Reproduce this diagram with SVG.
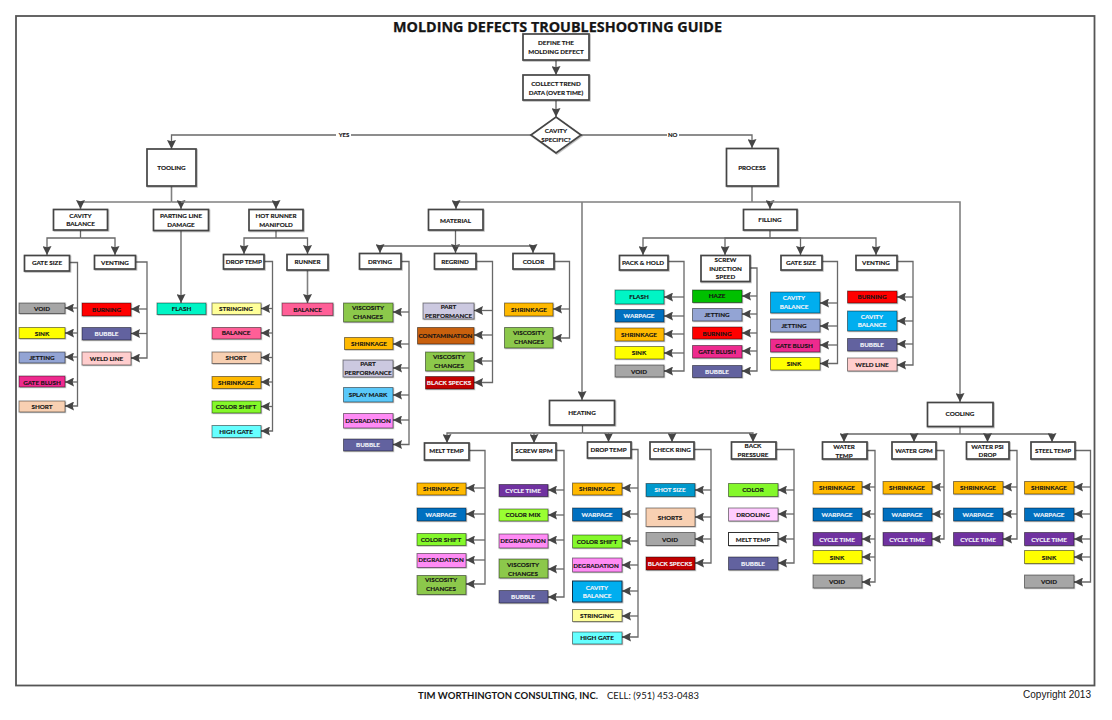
<svg xmlns="http://www.w3.org/2000/svg" width="1112" height="720" viewBox="0 0 1112 720">
<style>
text{font-family:Lato,"Liberation Sans",sans-serif;font-weight:700;font-size:6.3px;text-anchor:middle;fill:#151515;stroke:#151515;stroke-width:.14}
.w text,text.w{fill:#f2f4fa;stroke:#f2f4fa}
.n rect,.n polygon{fill:#fff;stroke:#454545;stroke-width:1.7;filter:url(#s)}
.c rect{stroke:#000;stroke-opacity:.45;stroke-width:1;filter:url(#s)}
#connectors path{fill:none;stroke:#686868;stroke-width:1.3}
#connectors path.a{marker-end:url(#ah)}
#connectors path.t{stroke:#808080;stroke-width:1.6}
.void rect{fill:#a6a6a6}.sink rect{fill:#ff0}.jet rect{fill:#93a4d4}.blush rect{fill:#ee2b8e}.short rect{fill:#f8d0b2}
.burn rect{fill:#f00}.bub rect{fill:#62629f}.weld rect{fill:#ffcdcd}.flash rect{fill:#00f5c5}.str rect{fill:#ffff99}
.bal rect{fill:#ff5f97}.shr rect{fill:#ffb900}.cs rect{fill:#84f82a}.hg rect{fill:#66ffff}.vis rect{fill:#8cc84b}
.pp rect{fill:#ccc9e0}.spl rect{fill:#5ac8fa}.deg rect{fill:#ff8bf5}.con rect{fill:#c8600a}.bs rect{fill:#c00000}
.haze rect{fill:#00c000}.war rect{fill:#0070c0}.cav rect{fill:#00aeef}.cyc rect{fill:#7030a0}.mix rect{fill:#99ff33}
.shot rect{fill:#0099cc}.dro rect{fill:#ffccff}.mt rect{fill:#fff;stroke:#333;stroke-opacity:1}
</style>
<defs>
<filter id="s" x="-10%" y="-10%" width="125%" height="130%"><feDropShadow dx="0.8" dy="0.8" stdDeviation="0.6" flood-color="#000" flood-opacity="0.3"/></filter>
<marker id="ah" viewBox="0 0 8 8" refX="8" refY="4" markerWidth="9" markerHeight="9" markerUnits="userSpaceOnUse" orient="auto"><path d="M0,0L8,4L0,8L1.2,4z" fill="#454545"/></marker>
</defs>
<rect id="frame" x="16" y="16" width="1078.5" height="669.5" fill="none" stroke="#555" stroke-width="1.8"/>
<text x="557.5" y="32" style="font-family:'Open Sans',sans-serif;font-size:14px;stroke-width:.25" textLength="329" lengthAdjust="spacingAndGlyphs">MOLDING DEFECTS TROUBLESHOOTING GUIDE</text>
<text x="508" y="698.5" style="font-size:10px;stroke:none" textLength="180" lengthAdjust="spacingAndGlyphs">TIM WORTHINGTON CONSULTING, INC.</text>
<text x="653" y="698.5" style="font-size:10px;font-weight:400;stroke:none" textLength="92" lengthAdjust="spacingAndGlyphs">CELL: (951) 453-0483</text>
<text x="1057" y="697.7" style="font-family:'Liberation Sans',sans-serif;font-size:10px;font-weight:400;stroke:none" textLength="68" lengthAdjust="spacingAndGlyphs">Copyright 2013</text>

<g id="connectors">
<path class="t a" d="M556,60V75"/><path class="t a" d="M556,100V117"/>
<path class="a" d="M531,135H171.5V149"/><path class="a" d="M581,135H752V148"/>
<!-- tooling -->
<path class="t" d="M171.5,186V202"/><path class="t a" d="M171.5,202H80.5V209"/><path class="t a" d="M171.5,202H181V209"/><path class="t a" d="M181,202H276V209"/>
<path d="M80.5,230V238"/><path class="a" d="M80.5,238H47V255"/><path class="a" d="M80.5,238H115V255"/>
<path class="a" d="M70,262.5H77.5V406H65"/><path class="a" d="M77.5,308H65"/><path class="a" d="M77.5,333H65"/><path class="a" d="M77.5,357H65"/><path class="a" d="M77.5,382H65"/>
<path class="a" d="M136,262H147V358H131"/><path class="a" d="M147,309H131"/><path class="a" d="M147,333.5H131"/>
<path class="t a" d="M181,231V303"/>
<path d="M276,231V238"/><path class="a" d="M276,238H244V254"/><path class="a" d="M276,238H307.5V254"/>
<path class="a" d="M264,261.5H272.5V431H261"/><path class="a" d="M272.5,308.5H261"/><path class="a" d="M272.5,333H261"/><path class="a" d="M272.5,357.5H261"/><path class="a" d="M272.5,382H261"/><path class="a" d="M272.5,406.5H261"/>
<path class="t a" d="M307.5,270V303"/>
<!-- process -->
<path class="t" d="M752,186V202"/><path class="t a" d="M582,202H456V209"/><path class="t a" d="M582,202V400"/><path class="t a" d="M582,202H770V209"/><path class="t a" d="M770,202H960V402"/>
<!-- material -->
<path d="M455.5,230V246"/><path class="a" d="M455.5,246H380V253"/><path class="a" d="M455.5,246V253"/><path class="a" d="M455.5,246H533V253"/>
<path class="a" d="M401,261.5H409V444.5H393"/><path class="a" d="M409,312H393"/><path class="a" d="M409,344H393"/><path class="a" d="M409,368H393"/><path class="a" d="M409,395H393"/><path class="a" d="M409,420H393"/>
<path class="a" d="M476,261.5H492.5V382.5H474"/><path class="a" d="M492.5,310.5H474"/><path class="a" d="M492.5,335H474"/><path class="a" d="M492.5,361H474"/>
<path class="a" d="M554,261.5H569.5V338H553"/><path class="a" d="M569.5,309H553"/>
<!-- filling -->
<path d="M770,230V238"/><path class="a" d="M770,238H643V255"/><path class="a" d="M770,238H725V255"/><path class="a" d="M770,238H800.5V255"/><path class="a" d="M770,238H876V255"/>
<path class="a" d="M668,261.5H684V371H664"/><path class="a" d="M684,297H664"/><path class="a" d="M684,316H664"/><path class="a" d="M684,334H664"/><path class="a" d="M684,353H664"/>
<path class="a" d="M750,268H757V371H742"/><path class="a" d="M757,296H742"/><path class="a" d="M757,314H742"/><path class="a" d="M757,333H742"/><path class="a" d="M757,351H742"/>
<path class="a" d="M822,261.5H837.5V363.5H820"/><path class="a" d="M837.5,303H820"/><path class="a" d="M837.5,326H820"/><path class="a" d="M837.5,345H820"/>
<path class="a" d="M897,261.5H913V365H897"/><path class="a" d="M913,297H897"/><path class="a" d="M913,321H897"/><path class="a" d="M913,344H897"/>
<!-- heating -->
<path d="M582.5,425V433"/><path class="a" d="M582.5,433H447V443"/><path class="a" d="M534,433V443"/><path class="a" d="M608.5,433V442"/><path class="a" d="M582.5,433H753V442"/><path class="a" d="M672,433V442"/>
<path class="a" d="M469,450.5H485V584H466"/><path class="a" d="M485,488H466"/><path class="a" d="M485,514H466"/><path class="a" d="M485,540H466"/><path class="a" d="M485,560H466"/>
<path class="a" d="M556,450.5H564V597H548"/><path class="a" d="M564,490H548"/><path class="a" d="M564,515H548"/><path class="a" d="M564,540H548"/><path class="a" d="M564,569H548"/>
<path class="a" d="M631,449.5H638V637H622"/><path class="a" d="M638,488H622"/><path class="a" d="M638,514H622"/><path class="a" d="M638,541H622"/><path class="a" d="M638,565H622"/><path class="a" d="M638,591H622"/><path class="a" d="M638,616H622"/>
<path class="a" d="M694,449.5H711V563H695"/><path class="a" d="M711,490H695"/><path class="a" d="M711,517H695"/><path class="a" d="M711,539H695"/>
<path class="a" d="M776,449.5H794V563H778"/><path class="a" d="M794,490H778"/><path class="a" d="M794,514H778"/><path class="a" d="M794,539H778"/>
<!-- cooling -->
<path d="M960,427V434"/><path class="a" d="M960,434H844V442"/><path class="a" d="M914,434V442"/><path class="a" d="M960,434H1052V442"/><path class="a" d="M987.5,434V442"/>
<path class="a" d="M867,450.5H875V582H862"/><path class="a" d="M875,487H862"/><path class="a" d="M875,514H862"/><path class="a" d="M875,539H862"/><path class="a" d="M875,557H862"/>
<path class="a" d="M936,450.5H944V539H932"/><path class="a" d="M944,487H932"/><path class="a" d="M944,514H932"/>
<path class="a" d="M1009,450.5H1017V539H1003"/><path class="a" d="M1017,487H1003"/><path class="a" d="M1017,514H1003"/>
<path class="a" d="M1075,450.5H1090.5V582H1074"/><path class="a" d="M1090.5,487H1074"/><path class="a" d="M1090.5,514H1074"/><path class="a" d="M1090.5,539H1074"/><path class="a" d="M1090.5,557H1074"/>
</g>

<g id="define" class="n"><rect x="523" y="34" width="66" height="26"/><text x="556" y="44.8">DEFINE THE</text><text x="556" y="53.8">MOLDING DEFECT</text></g>
<g id="collect" class="n"><rect x="523" y="75" width="66" height="25"/><text x="556" y="85.5">COLLECT TREND</text><text x="556" y="94.5">DATA (OVER TIME)</text></g>
<g id="cavity-specific" class="n"><polygon points="531,135 556,117 581,135 556,153"/><text x="556" y="132.8">CAVITY</text><text x="556" y="141.8">SPECIFIC?</text></g>
<g id="yes"><rect x="336" y="131" width="15" height="8" fill="#fff"/><text x="344" y="137.3" style="font-size:6px">YES</text></g>
<g id="no"><rect x="667" y="131" width="12" height="8" fill="#fff"/><text x="672.7" y="137.3" style="font-size:6px">NO</text></g>

<g id="tooling" class="n"><rect x="147" y="149" width="49" height="37"/><text x="171.5" y="169.5">TOOLING</text></g>
<g id="cavity-balance" class="n"><rect x="53.5" y="209.5" width="54" height="20.5"/><text x="80.5" y="218">CAVITY</text><text x="80.5" y="226">BALANCE</text></g>
<g id="parting" class="n"><rect x="153.5" y="209.5" width="55" height="21"/><text x="181" y="218">PARTING LINE</text><text x="181" y="227">DAMAGE</text></g>
<g id="hot-runner" class="n"><rect x="249" y="209.5" width="54" height="21"/><text x="276" y="218">HOT RUNNER</text><text x="276" y="227">MANIFOLD</text></g>
<g id="t-gate" class="n"><rect x="24.5" y="255.5" width="45" height="15.5"/><text x="47" y="265">GATE SIZE</text></g>
<g id="t-vent" class="n"><rect x="94.5" y="255.5" width="41" height="13.5"/><text x="115" y="264.5">VENTING</text></g>
<g id="t-drop" class="n"><rect x="223.5" y="254.5" width="40.5" height="14.5"/><text x="243.8" y="264">DROP TEMP</text></g>
<g id="t-runner" class="n"><rect x="287" y="254.5" width="41" height="15.5"/><text x="307.5" y="264">RUNNER</text></g>

<g id="a1" class="c void"><rect x="19" y="303" width="46" height="10.5"/><text x="42" y="310.5">VOID</text></g>
<g id="a2" class="c sink"><rect x="19" y="327.5" width="46" height="11"/><text x="42" y="335.5">SINK</text></g>
<g id="a3" class="c jet"><rect x="19" y="352" width="46" height="11"/><text x="42" y="360">JETTING</text></g>
<g id="a4" class="c blush"><rect x="19" y="376" width="46" height="11"/><text x="42" y="384.5">GATE BLUSH</text></g>
<g id="a5" class="c short"><rect x="19" y="401" width="46" height="11"/><text x="42" y="409">SHORT</text></g>
<g id="b1" class="c burn"><rect x="82" y="303" width="49" height="13"/><text x="106.5" y="311.5">BURNING</text></g>
<g id="b2" class="c bub w"><rect x="82" y="327.5" width="49" height="12.5"/><text x="106.5" y="336">BUBBLE</text></g>
<g id="b3" class="c weld"><rect x="82" y="352" width="49" height="13"/><text x="106.5" y="360.5">WELD LINE</text></g>
<g id="c1" class="c flash"><rect x="157" y="303" width="49" height="11.5"/><text x="181.5" y="310.5">FLASH</text></g>
<g id="d1" class="c str"><rect x="212" y="303" width="49" height="11.5"/><text x="236" y="310.5">STRINGING</text></g>
<g id="d2" class="c bal"><rect x="212" y="327.5" width="49" height="11.5"/><text x="236" y="335">BALANCE</text></g>
<g id="d3" class="c short"><rect x="212" y="352" width="49" height="11.5"/><text x="236" y="360">SHORT</text></g>
<g id="d4" class="c shr"><rect x="212" y="376.5" width="49" height="12"/><text x="236" y="384.5">SHRINKAGE</text></g>
<g id="d5" class="c cs"><rect x="212" y="401" width="49" height="12"/><text x="236" y="409">COLOR SHIFT</text></g>
<g id="d6" class="c hg"><rect x="212" y="425.5" width="49" height="12"/><text x="236" y="433.5">HIGH GATE</text></g>
<g id="e1" class="c bal"><rect x="282" y="303" width="51" height="12.5"/><text x="307.5" y="311.5">BALANCE</text></g>

<g id="process" class="n"><rect x="726.5" y="148.5" width="51.5" height="37.5"/><text x="752" y="169.5">PROCESS</text></g>
<g id="material" class="n"><rect x="428.5" y="209.5" width="54.5" height="20.5"/><text x="455.5" y="222.5">MATERIAL</text></g>
<g id="filling" class="n"><rect x="743.5" y="209.5" width="53.5" height="20.5"/><text x="770" y="221.5">FILLING</text></g>
<g id="drying" class="n"><rect x="359.5" y="253.5" width="41.5" height="15.5"/><text x="380" y="263.5">DRYING</text></g>
<g id="regrind" class="n"><rect x="434.5" y="253.5" width="41.5" height="15.5"/><text x="455" y="263.5">REGRIND</text></g>
<g id="color" class="n"><rect x="513" y="253.5" width="41" height="15.5"/><text x="533.5" y="263.5">COLOR</text></g>

<g id="f1" class="c vis"><rect x="343.5" y="303" width="49.5" height="19"/><text x="368" y="309.5">VISCOSITY</text><text x="368" y="318.5">CHANGES</text></g>
<g id="f2" class="c shr"><rect x="344.5" y="337.5" width="48.5" height="12"/><text x="369" y="345.5">SHRINKAGE</text></g>
<g id="f3" class="c pp"><rect x="343" y="360" width="50" height="17"/><text x="368" y="365.5">PART</text><text x="368" y="374.5">PERFORMANCE</text></g>
<g id="f4" class="c spl"><rect x="343.5" y="387.5" width="49.5" height="14.5"/><text x="368" y="397">SPLAY MARK</text></g>
<g id="f5" class="c deg"><rect x="343.5" y="413.5" width="49.5" height="14.5"/><text x="368" y="422.5">DEGRADATION</text></g>
<g id="f6" class="c bub w"><rect x="343.5" y="439" width="49.5" height="12"/><text x="368" y="446.5">BUBBLE</text></g>
<g id="g1" class="c pp"><rect x="423" y="303" width="51" height="16"/><text x="448.5" y="308.5">PART</text><text x="448.5" y="317.5">PERFORMANCE</text></g>
<g id="g2" class="c con"><rect x="417.5" y="327.5" width="56.5" height="16.5"/><text x="445.5" y="338">CONTAMINATION</text></g>
<g id="g3" class="c vis"><rect x="425.5" y="352" width="48.5" height="19"/><text x="449" y="358.5">VISCOSITY</text><text x="449" y="367.5">CHANGES</text></g>
<g id="g4" class="c bs w"><rect x="425.5" y="376.5" width="48.5" height="12.5"/><text x="449" y="385">BLACK SPECKS</text></g>
<g id="h1" class="c shr"><rect x="504.5" y="303" width="48.5" height="13"/><text x="529" y="311.5">SHRINKAGE</text></g>
<g id="h2" class="c vis"><rect x="504.5" y="327.5" width="48.5" height="20.5"/><text x="529" y="334.5">VISCOSITY</text><text x="529" y="343.5">CHANGES</text></g>

<g id="pack" class="n"><rect x="619.5" y="255.5" width="48.5" height="14.5"/><text x="643" y="264.5">PACK &amp; HOLD</text></g>
<g id="screw" class="n"><rect x="701" y="255.5" width="49" height="26"/><text x="725.5" y="261.8">SCREW</text><text x="725.5" y="270.8">INJECTION</text><text x="725.5" y="278.8">SPEED</text></g>
<g id="m-gate" class="n"><rect x="781" y="255.5" width="41" height="14.5"/><text x="801" y="264.5">GATE SIZE</text></g>
<g id="m-vent" class="n"><rect x="856" y="255.5" width="41" height="14.5"/><text x="876" y="264.5">VENTING</text></g>
<g id="i1" class="c flash"><rect x="615" y="290" width="49" height="14"/><text x="639" y="299">FLASH</text></g>
<g id="i2" class="c war w"><rect x="615" y="309.5" width="49" height="12.5"/><text x="639" y="318">WARPAGE</text></g>
<g id="i3" class="c shr"><rect x="615" y="328" width="49" height="13"/><text x="639" y="337">SHRINKAGE</text></g>
<g id="i4" class="c sink"><rect x="615" y="346.5" width="49" height="12.5"/><text x="639" y="355">SINK</text></g>
<g id="i5" class="c void"><rect x="615" y="365" width="49" height="12"/><text x="639" y="373.5">VOID</text></g>
<g id="j1" class="c haze"><rect x="692.5" y="290" width="49.5" height="12.5"/><text x="717" y="298">HAZE</text></g>
<g id="j2" class="c jet"><rect x="692.5" y="308.5" width="49.5" height="12.5"/><text x="717" y="317">JETTING</text></g>
<g id="j3" class="c burn"><rect x="692.5" y="327" width="49.5" height="12"/><text x="717" y="335.5">BURNING</text></g>
<g id="j4" class="c blush"><rect x="692.5" y="345.5" width="49.5" height="12.5"/><text x="717" y="353.5">GATE BLUSH</text></g>
<g id="j5" class="c bub w"><rect x="692.5" y="365.5" width="49.5" height="12"/><text x="717" y="373.5">BUBBLE</text></g>
<g id="k1" class="c cav w"><rect x="770.5" y="292" width="49.5" height="21"/><text x="794" y="299.5">CAVITY</text><text x="794" y="308.5">BALANCE</text></g>
<g id="k2" class="c jet"><rect x="770.5" y="319" width="49.5" height="13"/><text x="794" y="328">JETTING</text></g>
<g id="k3" class="c blush"><rect x="770.5" y="339" width="49.5" height="13"/><text x="794" y="347.5">GATE BLUSH</text></g>
<g id="k4" class="c sink"><rect x="770.5" y="357.5" width="49.5" height="12.5"/><text x="794" y="366">SINK</text></g>
<g id="l1" class="c burn"><rect x="847.5" y="291" width="49.5" height="12"/><text x="872" y="299">BURNING</text></g>
<g id="l2" class="c cav w"><rect x="847.5" y="311" width="49.5" height="20"/><text x="872" y="318.5">CAVITY</text><text x="872" y="327">BALANCE</text></g>
<g id="l3" class="c bub w"><rect x="847.5" y="338.5" width="49.5" height="12.5"/><text x="872" y="346.5">BUBBLE</text></g>
<g id="l4" class="c weld"><rect x="847.5" y="358" width="49.5" height="13"/><text x="872" y="367">WELD LINE</text></g>

<g id="heating" class="n"><rect x="549.5" y="400.5" width="65" height="24.5"/><text x="582" y="415">HEATING</text></g>
<g id="cooling" class="n"><rect x="927.5" y="402.5" width="65.5" height="24"/><text x="960" y="416">COOLING</text></g>
<g id="h-melt" class="n"><rect x="424.5" y="443" width="44.5" height="17"/><text x="446.5" y="453">MELT TEMP</text></g>
<g id="h-screw" class="n"><rect x="512" y="443" width="44" height="17"/><text x="534" y="453">SCREW RPM</text></g>
<g id="h-drop" class="n"><rect x="587.5" y="442" width="43.5" height="16"/><text x="608.5" y="452">DROP TEMP</text></g>
<g id="h-check" class="n"><rect x="650" y="442" width="44" height="17"/><text x="672" y="452">CHECK RING</text></g>
<g id="h-back" class="n"><rect x="731.5" y="442" width="44.5" height="17"/><text x="753" y="447.5">BACK</text><text x="753" y="456.5">PRESSURE</text></g>
<g id="c-wt" class="n"><rect x="822.5" y="442" width="44.5" height="17"/><text x="844" y="448.5">WATER</text><text x="844" y="457.5">TEMP</text></g>
<g id="c-gpm" class="n"><rect x="892" y="442" width="44" height="17"/><text x="914" y="453">WATER GPM</text></g>
<g id="c-psi" class="n"><rect x="966.5" y="442" width="42.5" height="17"/><text x="987.5" y="448.5">WATER PSI</text><text x="987.5" y="456.8">DROP</text></g>
<g id="c-steel" class="n"><rect x="1031" y="442" width="44" height="17"/><text x="1053" y="453">STEEL TEMP</text></g>

<g id="m1" class="c shr"><rect x="417" y="483" width="49" height="12"/><text x="441" y="490.5">SHRINKAGE</text></g>
<g id="m2" class="c war w"><rect x="417" y="508" width="49" height="13"/><text x="441" y="516.5">WARPAGE</text></g>
<g id="m3" class="c cs"><rect x="417" y="533.5" width="49" height="12"/><text x="441" y="541.5">COLOR SHIFT</text></g>
<g id="m4" class="c deg"><rect x="417" y="553.5" width="49" height="14"/><text x="441" y="562">DEGRADATION</text></g>
<g id="m5" class="c vis"><rect x="417" y="575.5" width="49" height="19"/><text x="441" y="582">VISCOSITY</text><text x="441" y="591">CHANGES</text></g>
<g id="o1" class="c cyc w"><rect x="499" y="484.5" width="49" height="12"/><text x="523" y="492.5">CYCLE TIME</text></g>
<g id="o2" class="c mix"><rect x="499" y="509" width="49" height="12"/><text x="523" y="517">COLOR MIX</text></g>
<g id="o3" class="c deg"><rect x="499" y="534" width="49" height="14"/><text x="523" y="542.5">DEGRADATION</text></g>
<g id="o4" class="c vis"><rect x="499" y="559" width="49" height="19"/><text x="523" y="566.5">VISCOSITY</text><text x="523" y="575.5">CHANGES</text></g>
<g id="o5" class="c bub w"><rect x="499" y="590.5" width="49" height="12.5"/><text x="523" y="598.5">BUBBLE</text></g>
<g id="p1" class="c shr"><rect x="572.5" y="483" width="49.5" height="12"/><text x="597" y="490.5">SHRINKAGE</text></g>
<g id="p2" class="c war w"><rect x="572.5" y="508" width="49.5" height="13"/><text x="597" y="516.5">WARPAGE</text></g>
<g id="p3" class="c cs"><rect x="572.5" y="535" width="49.5" height="13"/><text x="597" y="544">COLOR SHIFT</text></g>
<g id="p4" class="c deg"><rect x="572.5" y="558" width="49.5" height="14"/><text x="596" y="567.5">DEGRADATION</text></g>
<g id="p5" class="c cav w"><rect x="572.5" y="581" width="49.5" height="21" style="stroke:#10304a;stroke-opacity:1"/><text x="597" y="589.5">CAVITY</text><text x="597" y="597.5">BALANCE</text></g>
<g id="p6" class="c str"><rect x="572.5" y="609.5" width="49.5" height="12"/><text x="597" y="617.5">STRINGING</text></g>
<g id="p7" class="c hg"><rect x="572.5" y="632" width="49.5" height="12"/><text x="597" y="639.5">HIGH GATE</text></g>
<g id="q1" class="c shot w"><rect x="646" y="483.5" width="49" height="13"/><text x="670" y="492">SHOT SIZE</text></g>
<g id="q2" class="c short"><rect x="646" y="508" width="49" height="18.5"/><text x="670" y="519.5">SHORTS</text></g>
<g id="q3" class="c void"><rect x="646" y="532.5" width="49" height="13"/><text x="670" y="541.5">VOID</text></g>
<g id="q4" class="c bs w"><rect x="646" y="557" width="49" height="13"/><text x="670" y="565.5">BLACK SPECKS</text></g>
<g id="r1" class="c cs"><rect x="728.5" y="483.5" width="49.5" height="13"/><text x="753" y="492">COLOR</text></g>
<g id="r2" class="c dro"><rect x="728.5" y="508" width="49.5" height="13"/><text x="753" y="517">DROOLING</text></g>
<g id="r3" class="c mt"><rect x="728.5" y="532.5" width="49.5" height="13"/><text x="753" y="541.5">MELT TEMP</text></g>
<g id="r4" class="c bub w"><rect x="728.5" y="557" width="49.5" height="13"/><text x="753" y="566">BUBBLE</text></g>

<g id="s1" class="c shr"><rect x="813" y="481.5" width="49" height="12.5"/><text x="837" y="489.5">SHRINKAGE</text></g>
<g id="s2" class="c war w"><rect x="813" y="508" width="49" height="13"/><text x="837" y="517">WARPAGE</text></g>
<g id="s3" class="c cyc w"><rect x="813" y="532.5" width="49" height="13"/><text x="837" y="541.5">CYCLE TIME</text></g>
<g id="s4" class="c sink"><rect x="813" y="550.5" width="49" height="13"/><text x="837" y="559.5">SINK</text></g>
<g id="s5" class="c void"><rect x="813" y="575" width="49" height="13"/><text x="837" y="584">VOID</text></g>
<g id="u1" class="c shr"><rect x="883" y="481.5" width="49" height="12.5"/><text x="907" y="489.5">SHRINKAGE</text></g>
<g id="u2" class="c war w"><rect x="883" y="508" width="49" height="13"/><text x="907" y="517">WARPAGE</text></g>
<g id="u3" class="c cyc w"><rect x="883" y="532.5" width="49" height="13"/><text x="907" y="541.5">CYCLE TIME</text></g>
<g id="v1" class="c shr"><rect x="953.5" y="481.5" width="49.5" height="12.5"/><text x="978" y="489.5">SHRINKAGE</text></g>
<g id="v2" class="c war w"><rect x="953.5" y="508" width="49.5" height="13"/><text x="978" y="517">WARPAGE</text></g>
<g id="v3" class="c cyc w"><rect x="953.5" y="532.5" width="49.5" height="13"/><text x="978" y="541.5">CYCLE TIME</text></g>
<g id="x1" class="c shr"><rect x="1024.5" y="481.5" width="49.5" height="12.5"/><text x="1049" y="489.5">SHRINKAGE</text></g>
<g id="x2" class="c war w"><rect x="1024.5" y="508" width="49.5" height="13"/><text x="1049" y="517">WARPAGE</text></g>
<g id="x3" class="c cyc w"><rect x="1024.5" y="532.5" width="49.5" height="13"/><text x="1049" y="541.5">CYCLE TIME</text></g>
<g id="x4" class="c sink"><rect x="1024.5" y="550.5" width="49.5" height="13"/><text x="1049" y="559.5">SINK</text></g>
<g id="x5" class="c void"><rect x="1024.5" y="575" width="49.5" height="13"/><text x="1049" y="584">VOID</text></g>
</svg>
